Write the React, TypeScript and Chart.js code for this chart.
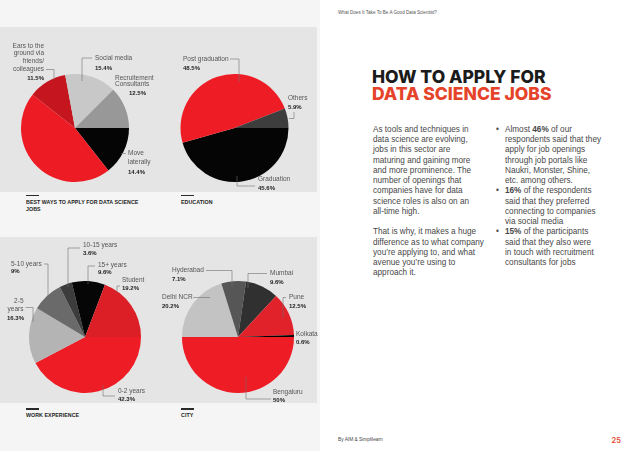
import React, { useEffect, useRef } from "react";
import { Chart, registerables } from "chart.js";

Chart.register(...registerables);

// ---------- DATA ----------
const waysCategories: string[][] = [["Move", "laterally"], ["Job portals"], ["Ears to the", "ground via", "friends/", "colleagues"], ["Social media"], ["Recruitement", "Consultants"]];
const waysValues = [14.4, 46.2, 11.5, 15.4, 12.5];

const eduCategories: string[][] = [["Graduation"], ["Post graduation"], ["Others"]];
const eduValues = [45.6, 48.5, 5.9];

const workCategories: string[][] = [["0-2 years"], ["2-5", "years"], ["5-10 years"], ["10-15 years"], ["15+ years"], ["Student"]];
const workValues = [42.3, 16.3, 9, 3.6, 9.6, 19.2];

const cityCategories: string[][] = [["Bengaluru"], ["Delhi NCR"], ["Hyderabad"], ["Mumbai"], ["Pune"], ["Kolkata"]];
const cityValues = [50, 20.2, 7.1, 9.6, 12.5, 0.6];

const captions = {
  ways: ["BEST WAYS TO APPLY FOR DATA SCIENCE", "JOBS"],
  edu: ["EDUCATION"],
  work: ["WORK EXPERIENCE"],
  city: ["CITY"],
};

// ---------- STYLES ----------
const waysColors = ["#050505", "#ed1c24", "#c5161f", "#c8c8c8", "#989898"];
const eduColors = ["#050505", "#ee1d25", "#3d3d3d"];
const workColors = ["#ee1c24", "#b4b4b4", "#6a6a6a", "#3c3c3c", "#060606", "#dc1f26"];
const cityColors = ["#ee1c24", "#c3c3c3", "#565656", "#303030", "#e1222a", "#000000"];

type Ann = {
  i: number; x: number; y: number; align?: CanvasTextAlign; lh?: number;
  vx?: number; vy: number; vAlign?: CanvasTextAlign; leader?: number[][];
};

const waysAnn: Ann[] = [
  { i: 2, x: 44, y: 46, align: "right", lh: 7.7, vx: 44, vy: 78.5, vAlign: "right", leader: [[46, 69.5], [54, 69.5], [54, 80]] },
  { i: 3, x: 95, y: 58, vy: 68.5, leader: [[92, 58], [82, 58], [82, 81]] },
  { i: 4, x: 115, y: 78, lh: 6.7, vx: 129, vy: 93 },
  { i: 0, x: 128, y: 153.5, lh: 8.4, vy: 172, leader: [[121, 153.5], [126, 153.5]] },
];
const eduAnn: Ann[] = [
  { i: 1, x: 183, y: 59, vy: 68, leader: [[230, 59], [239, 59], [239, 82]] },
  { i: 2, x: 288, y: 98, vy: 107, leader: [[294, 112], [294, 118.5], [289, 118.5]] },
  { i: 0, x: 258, y: 179, vy: 188, leader: [[237, 176], [237, 186], [255, 186]] },
];
const workAnn: Ann[] = [
  { i: 3, x: 83, y: 245, vy: 253, leader: [[80, 248], [68, 248], [68, 287]] },
  { i: 2, x: 11, y: 264, vy: 271.5, leader: [[44, 264], [48, 264], [48, 297]] },
  { i: 4, x: 98, y: 265, vy: 272.5, leader: [[95, 266], [88, 266], [88, 284]] },
  { i: 5, x: 122, y: 280, vy: 288.5, leader: [[120, 286], [117, 286], [117, 293]] },
  { i: 1, x: 23.5, y: 301, align: "right", lh: 8.2, vx: 7, vy: 318.5, vAlign: "left", leader: [[25.5, 307.5], [33, 307.5], [33, 322]] },
  { i: 0, x: 118, y: 391, vy: 399.5, leader: [[103, 385], [103, 396], [115, 396]] },
];
const cityAnn: Ann[] = [
  { i: 2, x: 172, y: 270.5, vy: 279, leader: [[206, 270.5], [232, 270.5], [232, 287]] },
  { i: 3, x: 270, y: 273.5, vy: 282, leader: [[267, 273.5], [248, 273.5], [248, 288]] },
  { i: 1, x: 162, y: 297.5, vy: 306, leader: [[193, 297.5], [210, 297.5]] },
  { i: 4, x: 289, y: 297.5, vy: 306, leader: [[286, 297.5], [283, 297.5], [283, 318]] },
  { i: 5, x: 296, y: 334, vy: 342 },
  { i: 0, x: 273, y: 392, vy: 400, leader: [[246, 377], [246, 399], [271, 399]] },
];

const FONT = '"Liberation Sans", Arial, sans-serif';

type PieProps = {
  labels: string[][]; values: number[]; colors: string[]; ann: Ann[];
  box: { x: number; y: number; w: number; h: number };
  pie: { cx: number; cy: number; r: number };
};

function PiePanel({ labels, values, colors, ann, box, pie }: PieProps) {
  const ref = useRef<HTMLCanvasElement | null>(null);
  useEffect(() => {
    if (!ref.current) return;
    const ox = box.x, oy = box.y;
    const labelPlugin = {
      id: "pieLabels",
      afterDraw(chart: any) {
        const ctx: CanvasRenderingContext2D = chart.ctx;
        ctx.save();
        ctx.translate(-ox, -oy);
        for (const a of ann) {
          if (a.leader) {
            ctx.beginPath();
            ctx.strokeStyle = "#6e6e6e";
            ctx.lineWidth = 0.6;
            a.leader.forEach(([x, y], k) => (k ? ctx.lineTo(x, y) : ctx.moveTo(x, y)));
            ctx.stroke();
          }
          ctx.textBaseline = "middle";
          ctx.font = `6.5px ${FONT}`;
          ctx.fillStyle = "#555555";
          ctx.textAlign = a.align || "left";
          labels[a.i].forEach((l, k) => ctx.fillText(l, a.x, a.y + k * (a.lh ?? 7.7)));
          ctx.font = `bold 6px ${FONT}`;
          ctx.fillStyle = "#1c1c1c";
          ctx.textAlign = a.vAlign || a.align || "left";
          ctx.fillText(`${values[a.i]}%`, a.vx ?? a.x, a.vy);
        }
        ctx.restore();
      },
    };
    const left = pie.cx - pie.r - ox;
    const top = pie.cy - pie.r - oy;
    const right = box.w - (pie.cx + pie.r - ox);
    const bottom = box.h - (pie.cy + pie.r - oy);
    const chart = new Chart(ref.current, {
      type: "pie",
      data: {
        labels: labels as any,
        datasets: [{
          data: values,
          backgroundColor: colors,
          borderWidth: 0,
          hoverBorderWidth: 0,
          hoverOffset: 0,
          offset: 0,
        } as any],
      },
      options: {
        responsive: false,
        animation: false,
        events: [],
        rotation: 90,
        layout: { padding: { left, top, right, bottom } },
        plugins: { legend: { display: false }, tooltip: { enabled: false } },
      },
      plugins: [labelPlugin],
    });
    return () => chart.destroy();
  }, []);
  return (
    <canvas
      ref={ref}
      width={box.w}
      height={box.h}
      style={{ position: "absolute", left: box.x, top: box.y, width: box.w, height: box.h }}
    />
  );
}

function Caption({ x, y, lines }: { x: number; y: number; lines: string[] }) {
  return (
    <>
      <div style={{ position: "absolute", left: x, top: y, width: 13, height: 1.3, background: "#2a2a2a" }} />
      {lines.map((l, k) => (
        <div key={k} style={{ position: "absolute", left: x, top: y + 4 + k * 6.4, fontSize: 5.3, lineHeight: "6.4px", fontWeight: 700, color: "#222", whiteSpace: "nowrap", letterSpacing: 0.05 }}>{l}</div>
      ))}
    </>
  );
}

const LH = 10.25;
const leftLines: (string | null)[] = [
  "As tools and techniques in",
  "data science are evolving,",
  "jobs in this sector are",
  "maturing and gaining more",
  "and more prominence. The",
  "number of openings that",
  "companies have for data",
  "science roles is also on an",
  "all-time high.",
  null,
  "That is why, it makes a huge",
  "difference as to what company",
  "you\u2019re applying to, and what",
  "avenue you\u2019re using to",
  "approach it.",
];

const rightLines: { b?: boolean; t: React.ReactNode }[] = [
  { b: true, t: <>Almost <b>46%</b> of our</> },
  { t: "respondents said that they" },
  { t: "apply for job openings" },
  { t: "through job portals like" },
  { t: "Naukri, Monster, Shine," },
  { t: "etc. among others." },
  { b: true, t: <><b>16%</b> of the respondents</> },
  { t: "said that they preferred" },
  { t: "connecting to companies" },
  { t: "via social media" },
  { b: true, t: <><b>15%</b> of the participants</> },
  { t: "said that they also were" },
  { t: "in touch with recruitment" },
  { t: "consultants for jobs" },
];

export default function App() {
  useEffect(() => {
    document.body.style.margin = "0";
  }, []);
  const textTop = 124.8;
  const bodyStyle: React.CSSProperties = { position: "absolute", fontSize: 8.2, lineHeight: `${LH}px`, color: "#474747", whiteSpace: "nowrap" };
  return (
    <div style={{ position: "fixed", left: 0, top: 0, width: 638, height: 451, background: "#ffffff", overflow: "hidden", fontFamily: FONT }}>
      <div style={{ position: "absolute", left: 0, top: 0, width: 320, height: 451, background: "#f5f5f5" }} />
      <div style={{ position: "absolute", left: 0, top: 27, width: 317, height: 165, background: "#e5e5e5" }} />
      <div style={{ position: "absolute", left: 0, top: 237, width: 317, height: 166, background: "#e5e5e5" }} />

      <PiePanel labels={waysCategories} values={waysValues} colors={waysColors} ann={waysAnn}
        box={{ x: 0, y: 27, w: 159, h: 166 }} pie={{ cx: 75, cy: 128, r: 54 }} />
      <PiePanel labels={eduCategories} values={eduValues} colors={eduColors} ann={eduAnn}
        box={{ x: 159, y: 27, w: 162, h: 166 }} pie={{ cx: 234.5, cy: 128, r: 54 }} />
      <PiePanel labels={workCategories} values={workValues} colors={workColors} ann={workAnn}
        box={{ x: 0, y: 237, w: 159, h: 166 }} pie={{ cx: 85, cy: 337, r: 56 }} />
      <PiePanel labels={cityCategories} values={cityValues} colors={cityColors} ann={cityAnn}
        box={{ x: 159, y: 237, w: 162, h: 166 }} pie={{ cx: 238, cy: 337, r: 56 }} />

      <Caption x={26} y={195.2} lines={captions.ways} />
      <Caption x={181} y={195.2} lines={captions.edu} />
      <Caption x={26} y={408.3} lines={captions.work} />
      <Caption x={181} y={408.3} lines={captions.city} />

      <div style={{ position: "absolute", left: 338, top: 10, fontSize: 4.6, lineHeight: "6px", color: "#555", whiteSpace: "nowrap" }}>
        What Does It Take To Be A Good Data Scientist?
      </div>

      <div style={{ position: "absolute", left: 372, top: 68, fontFamily: "Inter, sans-serif", fontWeight: 800, fontSize: 17.5, lineHeight: "17px", whiteSpace: "nowrap" }}>
        <div style={{ color: "#1b1b1b" }}>HOW TO APPLY FOR</div>
        <div style={{ color: "#e5432a" }}>DATA SCIENCE JOBS</div>
      </div>

      {leftLines.map((l, k) => l ? (
        <div key={k} style={{ ...bodyStyle, left: 373, top: textTop + k * LH }}>{l}</div>
      ) : null)}

      {rightLines.map((l, k) => (
        <React.Fragment key={k}>
          {l.b ? <div style={{ ...bodyStyle, left: 496, top: textTop + k * LH }}>{"\u2022"}</div> : null}
          <div style={{ ...bodyStyle, left: 505, top: textTop + k * LH }}>{l.t}</div>
        </React.Fragment>
      ))}

      <div style={{ position: "absolute", left: 338, top: 437, fontSize: 4.8, lineHeight: "6px", color: "#444", whiteSpace: "nowrap" }}>
        By AIM &amp; Simplilearn
      </div>
      <div style={{ position: "absolute", left: 611.5, top: 436, fontSize: 7.5, lineHeight: "9px", color: "#e5432a", whiteSpace: "nowrap", fontFamily: "Inter, sans-serif", fontWeight: 600 }}>
        25
      </div>
    </div>
  );
}
